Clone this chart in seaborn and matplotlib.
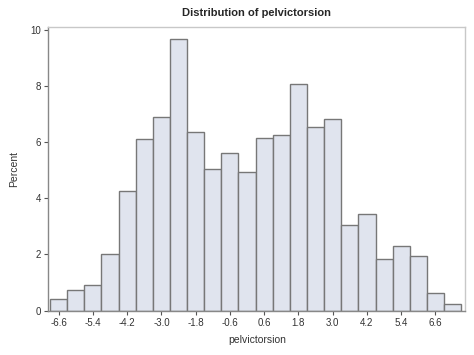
import numpy as np
import pandas as pd
import seaborn as sns
import matplotlib
matplotlib.use("Agg")
import matplotlib.pyplot as plt

# bin midpoints and percent per bin
bin_mid = [-6.6, -6.0, -5.4, -4.8, -4.2, -3.6, -3.0, -2.4, -1.8, -1.2, -0.6, 0.0,
           0.6, 1.2, 1.8, 2.4, 3.0, 3.6, 4.2, 4.8, 5.4, 6.0, 6.6, 7.2]
percent = [0.42, 0.73, 0.92, 2.0, 4.25, 6.1, 6.89, 9.69, 6.38, 5.04, 5.61, 4.94,
           6.15, 6.25, 8.08, 6.56, 6.84, 3.04, 3.43, 1.83, 2.3, 1.95, 0.63, 0.23]
x_ticks = [-6.6, -5.4, -4.2, -3.0, -1.8, -0.6, 0.6, 1.8, 3.0, 4.2, 5.4, 6.6]
y_ticks = [0, 2, 4, 6, 8, 10]
bin_width = 0.6

sns.set_style("white")
plt.rcParams["font.family"] = ["Liberation Sans", "DejaVu Sans"]

df = pd.DataFrame({"pelvictorsion": bin_mid, "percent": percent})
edges = [m - bin_width / 2 for m in bin_mid] + [bin_mid[-1] + bin_width / 2]

fig, ax = plt.subplots(figsize=(4.74, 3.55), dpi=100)
fig.subplots_adjust(left=0.102, right=0.982, top=0.925, bottom=0.125)

sns.histplot(data=df, x="pelvictorsion", weights="percent", bins=edges,
             color="#E0E4EE", edgecolor="#777777", linewidth=1.0, alpha=1,
             ax=ax)

ax.set_xlim(-6.96, 7.65)
ax.set_ylim(0, 10.12)
ax.set_xticks(x_ticks)
ax.set_xticklabels([f"{t:.1f}" for t in x_ticks])
ax.set_yticks(y_ticks)
ax.tick_params(axis="both", labelsize=7, length=3, width=0.8, color="#555555",
               direction="out", pad=2, labelcolor="#333333")
ax.tick_params(axis="x", bottom=True)
ax.tick_params(axis="y", left=True)
for side in ["top", "right"]:
    ax.spines[side].set_color("#C8C8C8")
for side in ["left", "bottom"]:
    ax.spines[side].set_color("#888888")
for sp in ax.spines.values():
    sp.set_linewidth(1.0)

ax.set_xlabel("pelvictorsion", fontsize=7.5, color="#333333", labelpad=5)
ax.set_ylabel("Percent", fontsize=7.5, color="#333333", labelpad=8)
ax.set_title("Distribution of pelvictorsion", fontsize=8, fontweight="bold",
             pad=8)

fig.savefig("out.png", dpi=100)
